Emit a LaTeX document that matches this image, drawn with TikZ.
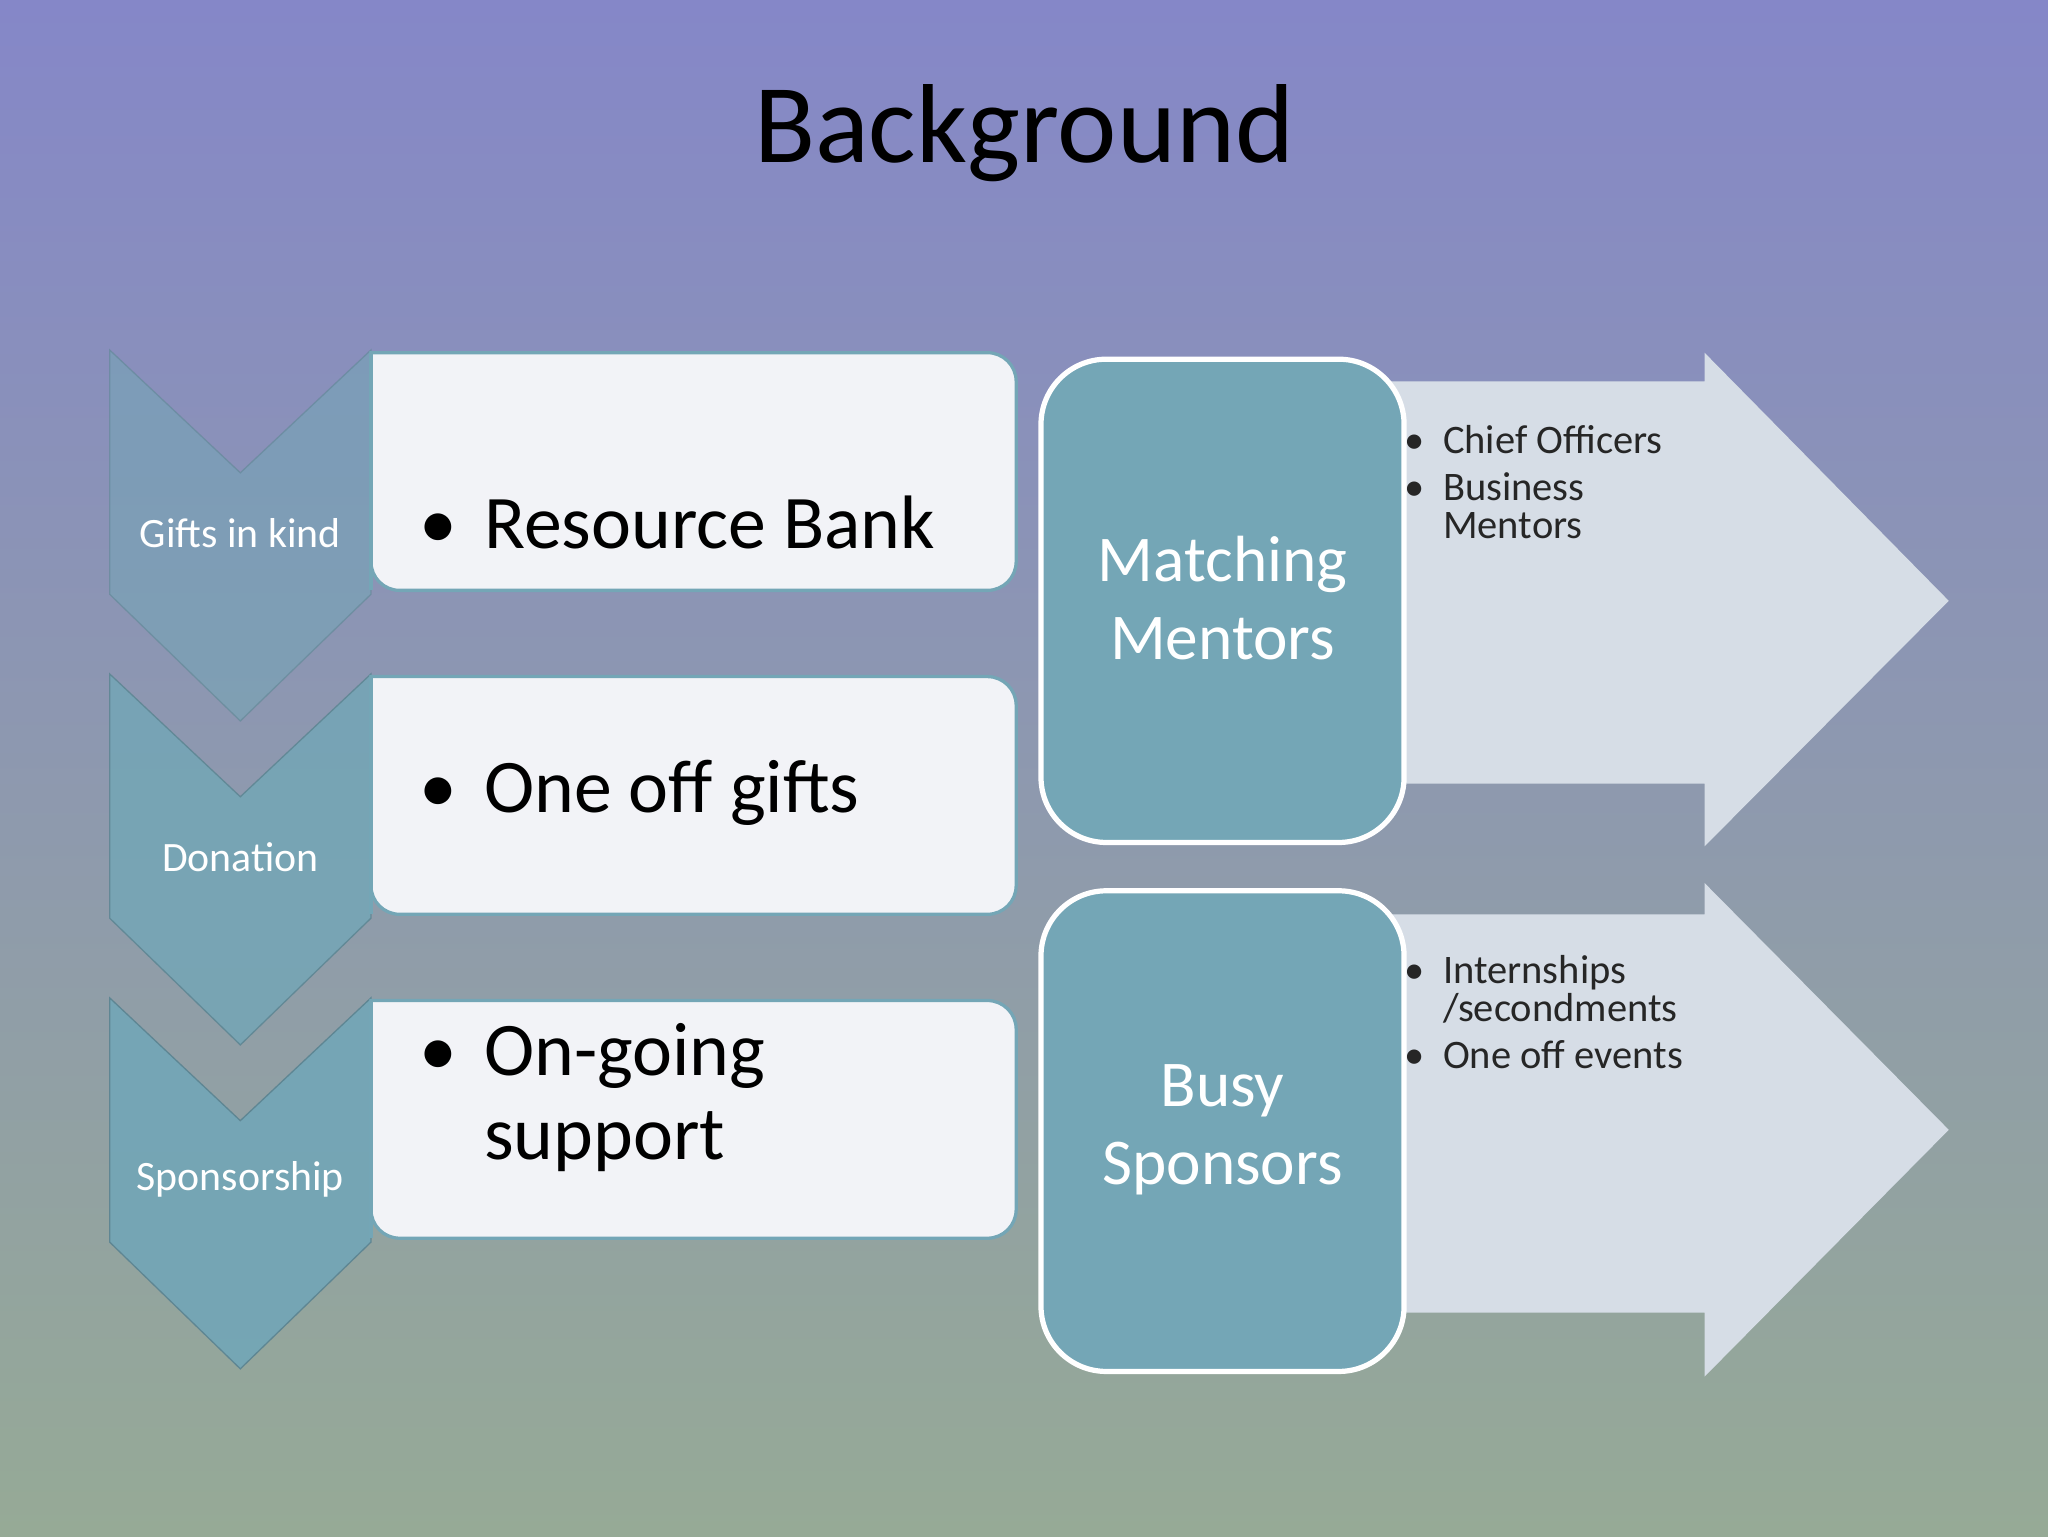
\documentclass[tikz,border=0pt]{standalone}
\usepackage{fontspec}
\setmainfont{Carlito}
\begin{document}
\begin{tikzpicture}[x=1pt,y=-1pt,
 chev/.style={fill=teal0,draw=teal0!80!black,line width=1},
 lab/.style={text=white,font=\fontsize{32}{36}\selectfont},
 box/.style={fill=boxf,draw=teal0,line width=2.5,rounded corners=22},
 big/.style={font=\fontsize{58}{70}\selectfont,anchor=west,align=left},
 rbox/.style={fill=teal0,draw=white,line width=4,rounded corners=50},
 rtxt/.style={text=white,font=\fontsize{50}{60}\selectfont,align=center},
 arr/.style={fill=arrf},
 small/.style={font=\fontsize{31}{41}\selectfont,anchor=north west,align=left,text=black!85}]
\definecolor{teal0}{RGB}{116,166,182}
\definecolor{boxf}{RGB}{242,243,247}
\definecolor{arrf}{RGB}{214,221,230}
\definecolor{topc}{RGB}{133,135,200}
\definecolor{botc}{RGB}{150,170,150}
\useasboundingbox (0,0) rectangle (1568,1176);
\shade[top color=topc,bottom color=botc] (0,0) rectangle (1568,1176);
\node[font=\fontsize{86}{100}\selectfont] (title) at (784,102) {Background};
% chevrons
\foreach \t/\o in {268/0.55,516/0.85,764/0.95}{
 \path[chev,fill opacity=\o,draw opacity=\o] (84,\t) -- (184,\t+94) -- (284,\t) -- (284,\t+187) -- (184,\t+284) -- (84,\t+187) -- cycle;}
\node[lab] (l1) at (184,408) {Gifts in kind};
\node[lab] (l2) at (184,656) {Donation};
\node[lab] (l3) at (184,903) {Sponsorship};
% boxes
\foreach \t in {270,518,766}{
 \draw[box] (284,\t) -- (778,\t) -- (778,\t+182) -- (284,\t+182) [sharp corners] -- cycle;}
\draw[teal0,line width=2.5] (284,270)--(284,452) (284,518)--(284,700) (284,766)--(284,948);
\node[big] (b1) at (318,400) {\textbullet\hspace{0.35em}Resource Bank};
\node[big] (b2) at (318,607) {\textbullet\hspace{0.35em}One off gifts};
\node[big,anchor=north west] (b3) at (318,780) {\textbullet\hspace{0.35em}On-going\\[-6pt]\hphantom{\textbullet\hspace{0.35em}}support};
% arrows
\path[arr] (1060,292) -- (1305,292) -- (1305,270) -- (1492,460) -- (1305,648) -- (1305,600) -- (1060,600) -- cycle;
\path[arr] (1060,700) -- (1305,700) -- (1305,676) -- (1492,865) -- (1305,1054) -- (1305,1005) -- (1060,1005) -- cycle;
\node[small] (s1) at (1072,322) {\textbullet\hspace{0.45em}Chief Officers\\[-5pt]\textbullet\hspace{0.45em}Business\\[-12pt]\hphantom{\textbullet\hspace{0.45em}}Mentors};
\node[small] (s2) at (1072,728) {\textbullet\hspace{0.45em}Internships\\[-12pt]\hphantom{\textbullet\hspace{0.45em}}/secondments\\[-5pt]\textbullet\hspace{0.45em}One off events};
% rounded boxes
\draw[rbox] (797,275) rectangle (1075,645);
\draw[rbox] (797,682) rectangle (1075,1050);
\node[rtxt] (m) at (936,458) {Matching\\Mentors};
\node[rtxt] (bs) at (936,865) {Busy\\Sponsors};
\end{tikzpicture}
\end{document}
